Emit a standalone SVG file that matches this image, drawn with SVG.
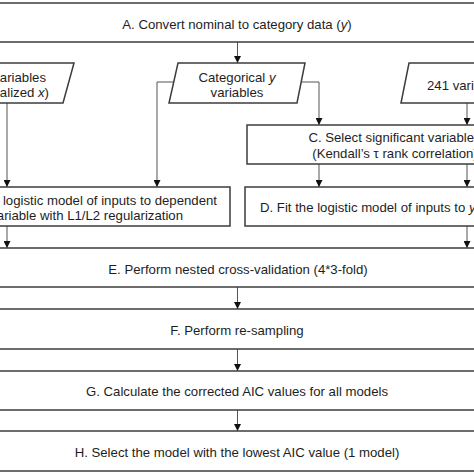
<svg xmlns="http://www.w3.org/2000/svg" width="474" height="474" viewBox="0 0 474 474">
<style>
.box{fill:#fff;stroke:#3c3c3c;stroke-width:1.5}
.t{font-family:"Liberation Sans",Arial,sans-serif;font-size:13.2px;fill:#1e1e1e}
.m{text-anchor:middle}
.e{text-anchor:end}
.i{font-style:italic}
.c{fill:none;stroke:#555;stroke-width:1;marker-end:url(#ah)}
</style>
<defs>
<marker id="ah" markerUnits="userSpaceOnUse" markerWidth="7" markerHeight="7" refX="7" refY="3.5" orient="auto">
<path d="M0,0 L7,3.5 L0,7 z" fill="#111"/>
</marker>
</defs>
<rect width="474" height="474" fill="#fff"/>
<g id="connectors">
<path class="c" d="M237.5 42 V63"/>
<path class="c" d="M7 103 V187"/>
<path class="c" d="M173.5 82 H157 V187"/>
<path class="c" d="M301 82 H319 V125"/>
<path class="c" d="M467 103 V125"/>
<path class="c" d="M319 164 V187"/>
<path class="c" d="M467 164 V187"/>
<path class="c" d="M7 226 V248"/>
<path class="c" d="M467 226 V248"/>
<path class="c" d="M237.5 287 V309"/>
<path class="c" d="M237.5 349 V371"/>
<path class="c" d="M237.5 410 V431"/>
</g>
<g id="nodeA">
<rect class="box" x="-5" y="3" width="484" height="39"/>
<text class="t m" x="237" y="28.5">A. Convert nominal to category data (<tspan class="i">y</tspan>)</text>
</g>
<g id="nodeInputs">
<polygon class="box" points="74,63 63,103 -20,103 -9,63"/>
<text class="t e" x="46" y="82">variables</text>
<text class="t e" x="49" y="97">(normalized <tspan class="i">x</tspan>)</text>
</g>
<g id="nodeCatY">
<polygon class="box" points="178,63 305,63 297,103 169,103"/>
<text class="t m" x="237" y="82">Categorical <tspan class="i">y</tspan></text>
<text class="t m" x="237" y="97">variables</text>
</g>
<g id="node241">
<polygon class="box" points="409,63 490,63 482,103 401,103"/>
<text class="t" x="427" y="89.5">241 variables</text>
</g>
<g id="nodeC">
<rect class="box" x="247" y="125" width="240" height="39"/>
<text class="t m" x="394.5" y="141.5">C. Select significant variables</text>
<text class="t m" x="395" y="157.5">(Kendall’s τ rank correlation)</text>
</g>
<g id="nodeB">
<rect class="box" x="-5" y="187" width="235" height="39"/>
<text class="t e" x="217" y="205">logistic model of inputs to dependent</text>
<text class="t e" x="183" y="220">variable with L1/L2 regularization</text>
</g>
<g id="nodeD">
<rect class="box" x="245" y="187" width="240" height="39"/>
<text class="t" x="260" y="212">D. Fit the logistic model of inputs to <tspan class="i">y</tspan></text>
</g>
<g id="nodeE">
<rect class="box" x="-5" y="248" width="484" height="39"/>
<text class="t m" x="238" y="273.5">E. Perform nested cross-validation (4*3-fold)</text>
</g>
<g id="nodeF">
<rect class="box" x="-5" y="309" width="484" height="40"/>
<text class="t m" x="237" y="335">F. Perform re-sampling</text>
</g>
<g id="nodeG">
<rect class="box" x="-5" y="371" width="484" height="39"/>
<text class="t m" x="237" y="395.5">G. Calculate the corrected AIC values for all models</text>
</g>
<g id="nodeH">
<rect class="box" x="-5" y="431" width="484" height="40"/>
<text class="t m" x="237" y="456.5">H. Select the model with the lowest AIC value (1 model)</text>
</g>
</svg>
